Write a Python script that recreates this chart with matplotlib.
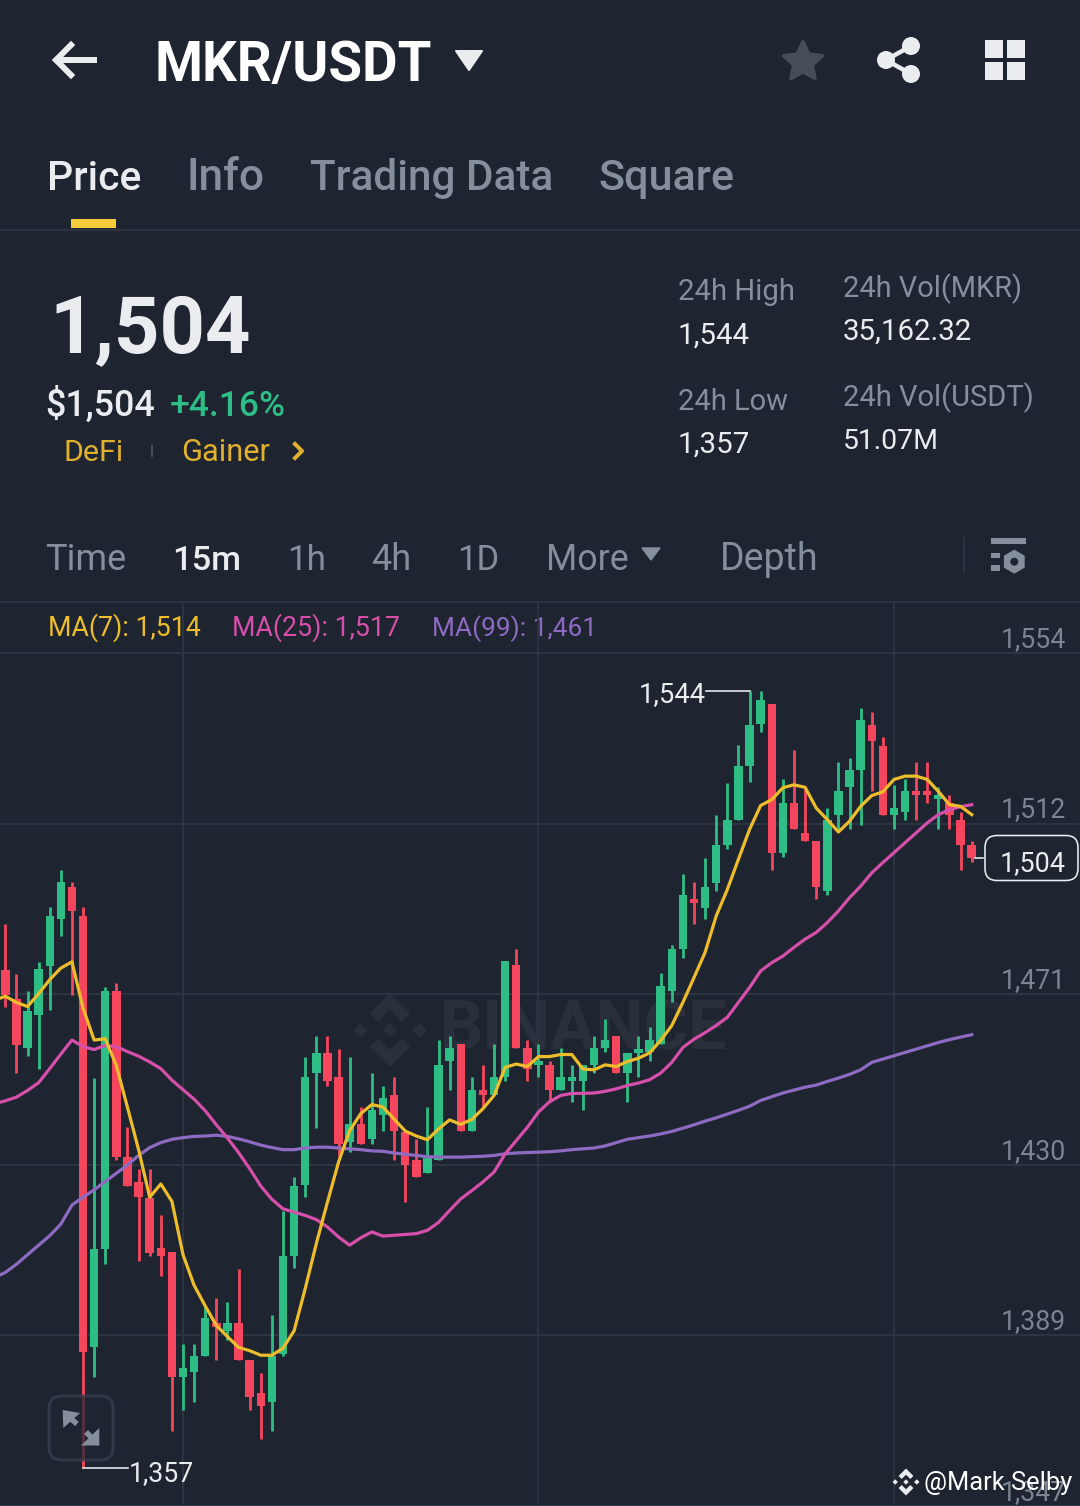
import numpy as np
import matplotlib
matplotlib.use("Agg")
import matplotlib.pyplot as plt
from matplotlib.patches import Rectangle, Polygon, Circle, FancyBboxPatch

# ---- data -----
opens = [1477.3,1470.4,1458.4,1466.4,1478.4,1489.6,1497.4,1490.4,1386.1,1410.0,
         1472.2,1432.1,1426.2,1422.1,1410.1,1409.2,1379.0,1380.1,1384.1,1391.9,
         1390.0,1391.9,1383.0,1375.0,1373.0,1384.5,1408.1,1425.3,1452.4,1457.3,
         1451.4,1435.7,1440.2,1436.4,1442.3,1447.2,1438.1,1431.3,1428.2,1431.3,
         1455.4,1459.4,1438.3,1448.3,1447.0,1451.4,1478.5,1458.4,1454.4,1454.4,
         1448.3,1450.4,1450.4,1454.4,1458.4,1461.3,1452.4,1457.3,1457.4,1459.4,
         1472.3,1482.4,1494.4,1492.4,1498.4,1507.5,1513.6,1526.6,1536.8,1541.7,
         1505.5,1517.6,1510.5,1508.5,1496.4,1514.7,1521.6,1525.6,1536.6,1531.6,
         1514.7,1515.6,1520.6,1520.6,1518.7,1517.6,1513.6,1507.5]
closes = [1471.3,1459.3,1467.4,1477.5,1490.4,1498.5,1491.6,1385.0,1410.0,1472.2,
          1432.2,1425.1,1422.4,1409.0,1408.2,1379.0,1381.0,1384.1,1393.1,1391.0,
          1391.9,1383.0,1374.1,1372.0,1384.1,1408.1,1425.1,1451.4,1457.3,1450.4,
          1435.3,1440.2,1435.3,1443.4,1446.3,1438.3,1430.3,1427.3,1432.1,1454.4,
          1458.4,1438.3,1448.3,1447.2,1451.4,1479.4,1458.4,1453.4,1455.4,1448.3,
          1451.4,1451.4,1454.4,1458.4,1460.4,1452.4,1457.3,1458.2,1460.4,1473.5,
          1482.5,1495.5,1493.5,1497.5,1507.5,1513.6,1526.6,1536.6,1542.7,1505.5,
          1517.6,1511.5,1508.5,1497.5,1513.6,1520.6,1525.6,1537.7,1532.6,1514.7,
          1516.5,1520.6,1519.6,1519.6,1519.6,1514.7,1507.5,1504.5]
highs = [1488.4,1476.4,1472.2,1479.3,1492.5,1501.5,1498.5,1492.5,1451.3,1473.3,
         1474.3,1439.3,1429.3,1429.3,1418.2,1409.2,1387.0,1387.0,1396.1,1398.1,
         1397.0,1405.1,1383.0,1380.0,1394.0,1419.1,1427.2,1456.2,1461.3,1461.3,
         1458.2,1456.2,1444.3,1452.4,1449.4,1451.4,1438.1,1436.4,1444.3,1460.4,
         1461.3,1459.4,1451.4,1454.4,1459.4,1479.4,1482.5,1460.4,1459.4,1455.4,
         1458.4,1454.4,1454.4,1461.3,1465.5,1461.3,1457.3,1461.3,1463.5,1476.5,
         1483.4,1500.5,1498.6,1504.5,1514.7,1522.6,1531.7,1544.7,1544.7,1541.7,
         1523.6,1530.6,1521.8,1508.5,1516.5,1527.6,1528.6,1540.7,1539.7,1533.7,
         1522.0,1523.6,1527.6,1527.6,1521.6,1519.6,1515.6,1508.5]
lows = [1468.5,1452.4,1456.5,1453.5,1467.6,1485.6,1471.3,1357.0,1379.0,1406.2,
        1431.3,1425.1,1407.1,1408.1,1403.3,1365.9,1371.0,1373.0,1384.1,1383.0,
        1388.0,1383.0,1371.0,1364.0,1365.9,1384.1,1405.3,1422.4,1439.2,1449.4,
        1432.3,1433.3,1435.3,1435.3,1438.3,1431.3,1421.3,1427.3,1428.2,1431.3,
        1448.3,1438.3,1438.3,1444.2,1447.0,1450.4,1458.4,1450.4,1451.4,1445.4,
        1448.3,1445.4,1443.4,1452.4,1457.4,1452.4,1445.4,1451.4,1455.4,1459.4,
        1469.5,1480.3,1488.4,1489.6,1496.4,1506.5,1513.6,1522.7,1534.8,1501.5,
        1504.6,1511.5,1508.5,1494.4,1495.5,1510.7,1511.5,1512.5,1520.6,1514.7,
        1511.5,1513.6,1513.7,1517.6,1511.5,1511.5,1501.5,1503.5]

ma7 = [1470.0,1471.0,1469.5,1468.5,1471.6,1475.0,1477.8,1479.3,1468.1,1460.4,1460.7,
       1454.2,1444.1,1433.9,1422.4,1425.6,1421.4,1408.5,1401.1,1396.1,1391.4,
       1388.7,1386.1,1385.3,1384.2,1384.2,1385.9,1390.1,1400.3,1411.2,1421.2,
       1430.9,1438.5,1442.6,1444.8,1444.2,1441.3,1438.4,1437.2,1436.3,1438.9,
       1441.1,1440.0,1441.2,1443.8,1447.0,1453.8,1454.6,1454.0,1456.4,1456.4,
       1456.9,1456.9,1453.4,1453.2,1454.4,1454.0,1455.2,1456.0,1457.3,1460.3,
       1463.9,1469.5,1475.5,1481.6,1490.4,1496.8,1504.1,1511.3,1517.1,1518.5,
       1521.4,1522.1,1521.5,1516.5,1513.7,1510.7,1513.3,1516.9,1519.5,1520.4,
       1523.4,1524.2,1524.2,1523.4,1520.5,1517.3,1516.9,1514.9]
ma25 = [1445.0,1445.7,1446.6,1448.2,1450.1,1453.5,1457.0,1460.4,1458.8,1458.1,1459.1,
        1458.8,1457.6,1456.5,1455.1,1453.5,1450.7,1448.4,1446.1,1443.3,1439.9,
        1436.7,1433.2,1429.3,1425.1,1421.9,1419.6,1418.8,1418.0,1417.0,1415.2,
        1412.8,1410.8,1412.6,1414.0,1413.0,1413.2,1413.4,1413.6,1414.4,1416.3,
        1419.2,1422.0,1424.0,1426.1,1428.5,1432.9,1436.1,1439.3,1443.0,1445.5,
        1447.0,1447.5,1447.5,1447.6,1448.0,1448.6,1449.4,1450.0,1450.8,1452.4,
        1455.0,1458.6,1460.6,1462.2,1463.9,1465.9,1469.5,1473.1,1477.1,1479.1,
        1480.7,1482.8,1484.8,1486.4,1488.8,1491.6,1494.8,1497.6,1500.8,1503.3,
        1505.7,1508.1,1510.5,1512.9,1514.9,1516.1,1516.8,1517.3]
ma99 = [1403.0,1404.2,1406.2,1408.5,1410.8,1413.1,1415.9,1420.5,1422.4,1424.2,1426.2,
        1428.2,1430.2,1432.5,1434.4,1435.6,1436.4,1436.8,1437.1,1437.2,1437.4,
        1437.1,1436.5,1435.8,1435.0,1434.4,1433.9,1433.9,1434.3,1434.5,1434.5,
        1434.3,1434.1,1433.9,1433.6,1433.5,1433.1,1432.8,1432.5,1432.2,1432.1,
        1432.1,1432.1,1432.2,1432.3,1432.5,1432.9,1433.1,1433.2,1433.3,1433.4,
        1433.6,1433.9,1434.1,1434.3,1434.8,1435.6,1436.4,1436.8,1437.2,1437.7,
        1438.3,1439.1,1439.9,1440.8,1441.6,1442.5,1443.4,1444.4,1445.8,1446.7,
        1447.6,1448.3,1449.0,1449.5,1450.4,1451.2,1452.1,1453.2,1455.0,1455.8,
        1456.6,1457.4,1458.2,1459.0,1459.8,1460.5,1461.1,1461.7]

tick_prices = [1554.0,1512.75,1471.5,1430.25,1389.0,1347.75]
tick_labels = ["1,554","1,512","1,471","1,430","1,389","1,347"]
vgrid_candles = [16,48,80]
last_price = 1504.5

# ---- style ----
BG="#1E2430"; GRID="#2D3441"; GREEN="#2EBD85"; RED="#F6465D"
C7="#EDBD2C"; C25="#D64FAB"; C99="#8E6BC2"
WHITE="#EAECEF"; GRAY="#848E9C"; TICK="#7C8492"; WM="#2A303B"; GOLD="#E0B12F"
plt.rcParams['font.family']=['Roboto','DejaVu Sans']
PX=0.72

fig=plt.figure(figsize=(10.8,15.06),dpi=100,facecolor=BG)
bg=fig.add_axes([0,0,1,1],zorder=0); bg.set_xlim(0,1080); bg.set_ylim(1506,0); bg.axis('off')
top=fig.add_axes([0,0,1,1],zorder=3); top.set_xlim(0,1080); top.set_ylim(1506,0); top.axis('off'); top.patch.set_alpha(0)

# chart axes
ax=fig.add_axes([0,0,1,904/1506],zorder=2); ax.patch.set_alpha(0)
ax.set_xlim(-0.477,96.75); ax.set_ylim(1348.2,1566.3)
for s in ax.spines.values(): s.set_visible(False)
ax.yaxis.tick_right()
ax.set_xticks([])
ax.set_yticks(tick_prices); ax.set_yticklabels(tick_labels)
ax.tick_params(axis='y',length=0,pad=-57,labelsize=19.2,labelcolor=TICK)
for l in ax.get_yticklabels():
    l.set_verticalalignment('bottom'); l.set_horizontalalignment('left')
ax.grid(axis='y',color=GRID,lw=2*PX,zorder=0)
for v in vgrid_candles: ax.axvline(v,color=GRID,lw=2*PX,zorder=0)

n=len(opens); xs=np.arange(n)
o,h,l,c=map(np.array,(opens,highs,lows,closes))
cols=[GREEN if c[i]>=o[i] else RED for i in range(n)]
ax.vlines(xs,l,h,colors=cols,lw=2.8*PX,zorder=3)
ax.bar(xs,np.abs(c-o),bottom=np.minimum(o,c),width=0.76,color=cols,zorder=3,linewidth=0)
xm=np.arange(-1,n)
ax.plot(xm,ma99,color=C99,lw=3.2*PX,zorder=4)
ax.plot(xm,ma25,color=C25,lw=3.2*PX,zorder=5)
ax.plot(xm,ma7,color=C7,lw=3.2*PX,zorder=6)
# high / low connectors
ih=int(np.argmax(h)); il=int(np.argmin(l))
ax.plot([ih-3.95,ih],[h[ih],h[ih]],color=WHITE,lw=1.6*PX,zorder=7)
ax.plot([il,il+4.05],[l[il],l[il]],color=WHITE,lw=1.6*PX,zorder=7)
ax.plot([n-1+0.3,n-1+1.0],[last_price,last_price],color=WHITE,lw=1.6*PX,zorder=7)

# ---- helpers -----
R=fig.canvas.get_renderer()
def T(a,s,x0,x1,base,color=WHITE,weight='normal',zorder=5,size=20):
    t=a.text(x0,base,s,color=color,fontweight=weight,fontsize=size,ha='left',va='baseline',zorder=zorder)
    w=t.get_window_extent(R).width
    t.set_fontsize(size*(x1-x0)/w)
    return t
def logo(a,cx,cy,r,color,zorder=1):
    for dx,dy,s in [(0,0,.2),(-.8,0,.2),(.8,0,.2)]:
        a.add_patch(Polygon([(cx+dx*r,cy+dy*r-s*r),(cx+dx*r+s*r,cy+dy*r),(cx+dx*r,cy+dy*r+s*r),(cx+dx*r-s*r,cy+dy*r)],color=color,lw=0,zorder=zorder))
    for sg in (-1,1):
        pts=[(0,1),(.55,.45),(.32,.22),(0,.54),(-.32,.22),(-.55,.45)]
        a.add_patch(Polygon([(cx+p*r,cy+sg*q*r) for p,q in pts],color=color,lw=0,zorder=zorder))
def rect(a,x0,y0,x1,y1,color,zorder=2):
    a.add_patch(Rectangle((x0,y0),x1-x0,y1-y0,color=color,lw=0,zorder=zorder))

# ---- header -----
bg.plot([56,97],[60,60],color=WHITE,lw=6*PX,solid_capstyle='butt')
bg.plot([71,56,71],[45,60,75],color=WHITE,lw=6*PX,solid_joinstyle='miter')
T(bg,"MKR/USDT",155,432,81,"#FFFFFF",'bold')
bg.add_patch(Polygon([(456,51),(482,51),(469,70)],color=WHITE,lw=2*PX,joinstyle='round'))
ang=np.deg2rad(np.arange(0,360,36)-90); rad=np.array([20,9.5]*5)
bg.add_patch(Polygon(np.c_[803+rad*np.cos(ang),62+rad*np.sin(ang)],facecolor="#474D57",edgecolor="#474D57",lw=4*PX,joinstyle='round'))
bg.plot([911,886,911],[46,60,74],color=WHITE,lw=4.5*PX)
for x,y in [(911,46),(911,74),(886,60)]: bg.add_patch(Circle((x,y),9,color=WHITE,lw=0))
for x0,x1 in [(985,1002.5),(1007,1025)]:
    for y0,y1 in [(40,57.7),(62.3,80)]: rect(bg,x0,y0,x1,y1,WHITE)

# tabs
T(bg,"Price",46.5,141,190,WHITE,500)
T(bg,"Info",187,265,190,GRAY,500)
T(bg,"Trading Data",310,553,190,GRAY,500)
T(bg,"Square",598,734,190,GRAY,500)
rect(bg,71,219,116,228,"#F5CB3B",3)
rect(bg,0,228.5,1080,230.5,GRID)

# stats
T(bg,"1,504",49,250,352,WHITE,'bold')
T(bg,"$1,504",45,155,416,WHITE,500)
T(bg,"+4.16%",170,286,416,GREEN,500)
T(bg,"DeFi",63,123,461,GOLD)
T(bg,"Gainer",181,270,461,GOLD)
rect(bg,151,445,153,457,"#474D57")
bg.plot([295,302,295],[444,451,458],color=GOLD,lw=4*PX)
T(bg,"24h High",678,795,300,GRAY)
T(bg,"1,544",678,750,344,WHITE)
T(bg,"24h Vol(MKR)",843,1022,297,GRAY)
T(bg,"35,162.32",843,972,340,WHITE)
T(bg,"24h Low",678,788,410,GRAY)
T(bg,"1,357",678,750,453,WHITE)
T(bg,"24h Vol(USDT)",843,1034,406,GRAY)
T(bg,"51.07M",843,939,449,WHITE)

# time frames
T(bg,"Time",45,126,570,GRAY)
T(bg,"15m",172,241,570,WHITE,500)
T(bg,"1h",287,326,570,GRAY)
T(bg,"4h",371,411,570,GRAY)
T(bg,"1D",457,499,570,GRAY)
T(bg,"More",546,628,570,GRAY)
bg.add_patch(Polygon([(642,548),(660,548),(651,560)],color=GRAY,lw=1))
T(bg,"Depth",720,818,570,GRAY)
rect(bg,963,537,965,573,GRID)
rect(bg,990.7,538.3,1025.7,544,GRAY)
rect(bg,990.7,552.7,1000,558.3,GRAY)
rect(bg,990.7,564.7,1000,570.7,GRAY)
a6=np.deg2rad(np.arange(0,360,60)-90)
bg.add_patch(Polygon(np.c_[1014.3+12*np.cos(a6),561.7+12*np.sin(a6)],color=GRAY,lw=0))
bg.add_patch(Circle((1014.3,561.7),4,color=BG,lw=0,zorder=3))
rect(bg,0,601,1080,603,GRID)

# MA legend
T(bg,"MA(7): 1,514",48,201,636,C7)
T(bg,"MA(25): 1,517",232,400,636,C25)
T(bg,"MA(99): 1,461",432,597,636,C99)

# watermark
logo(bg,390,1030,37,WM)
T(bg,"BINANCE",440,727,1050,WM,'bold')

# annotations on top
T(top,"1,544",639,706,702,WHITE)
T(top,"1,357",129,194,1481,WHITE)
box=FancyBboxPatch((985,835.5),93,45,boxstyle="round,pad=0,rounding_size=12",fc=BG,ec=WHITE,lw=1.6*PX,zorder=4)
top.add_patch(box)
T(top,"1,504",1000,1066,871,WHITE,zorder=6)
# expand button
top.add_patch(FancyBboxPatch((49,1396),64,64,boxstyle="round,pad=0,rounding_size=13",fc=BG,ec="#3A4150",lw=3*PX,alpha=0.72,zorder=4))
top.add_patch(Polygon([(62.7,1410),(80,1413),(63.3,1428)],color=GRAY,lw=0,zorder=5))
top.plot([70,77],[1418,1424],color=GRAY,lw=5.5*PX,zorder=5,solid_capstyle='butt')
top.add_patch(Polygon([(99.3,1445.5),(81,1445.5),(99.3,1428)],color=GRAY,lw=0,zorder=5))
top.plot([86,92],[1432,1438],color=GRAY,lw=5.5*PX,zorder=5,solid_capstyle='butt')
# signature
logo(top,906,1482,13.5,WHITE,zorder=7)
T(top,"@Mark Selby",924,1072,1490,"#FFFFFF",zorder=7)

fig.savefig("out.png",dpi=100,facecolor=BG)
